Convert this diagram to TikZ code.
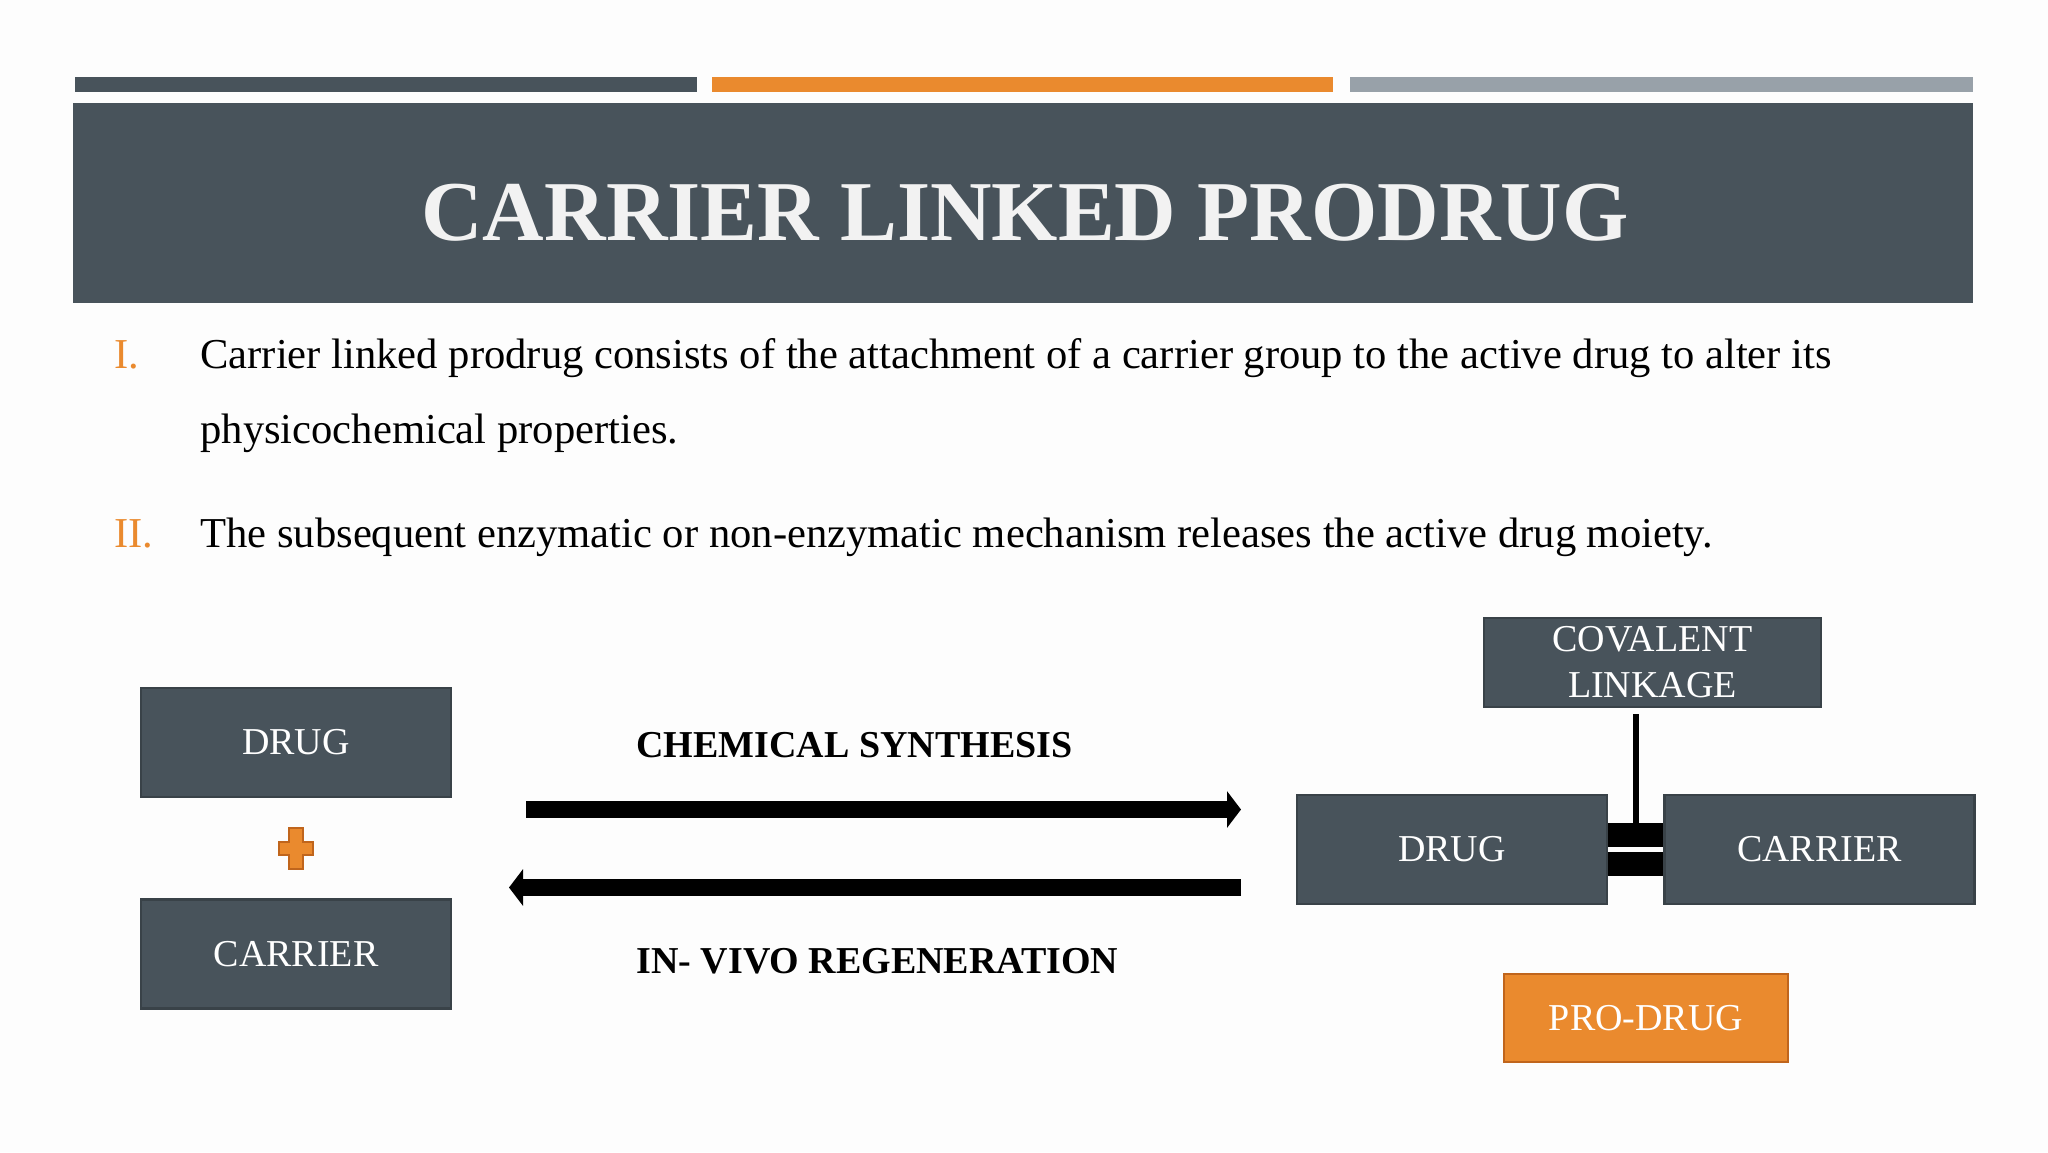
\documentclass[tikz,border=0pt]{standalone}
\usepackage{fontspec}
\setmainfont{Liberation Serif}
\usetikzlibrary{arrows.meta}

\definecolor{slate}{HTML}{48535B}
\definecolor{slateline}{HTML}{394248}
\definecolor{accent}{HTML}{EA8A2E}
\definecolor{accentline}{HTML}{C0651C}
\definecolor{mist}{HTML}{98A1A9}
\definecolor{paper}{HTML}{FDFDFD}

\tikzset{
	box/.style = {draw=slateline, line width=1.2pt, fill=slate, text=white, inner sep=0pt,
		minimum width=155pt, minimum height=54.5pt, align=center,
		font=\fontsize{19}{23}\selectfont},
	bigarrow/.style = {line width=8.5pt, -{Triangle[length=7pt, width=18pt]}},
	body/.style = {anchor=base west, inner sep=0pt, font=\fontsize{21.3}{25}\selectfont},
	arrowtext/.style = {anchor=base west, inner sep=0pt, font=\fontsize{19}{23}\selectfont\bfseries},
}

\begin{document}
\begin{tikzpicture}[x=0.5pt, y=-0.5pt]
	\useasboundingbox (0,0) rectangle (2048,1152);
	\fill[paper] (0,0) rectangle (2048,1152);

	% header
	\fill[slate] (75,77) rectangle (697,92);
	\fill[accent] (712,77) rectangle (1333,92);
	\fill[mist] (1350,77) rectangle (1973,92);
	\fill[slate] (73,103) rectangle (1973,303);
	\node[anchor=base, inner sep=0pt, text=white!95!black, font=\fontsize{42.6}{50}\selectfont\bfseries]
		(title) at (1025,240) {CARRIER LINKED PRODRUG};

	% points
	\node[body, text=accent] (num1) at (114,368) {I.};
	\node[body] (line1) at (200,368) {Carrier linked prodrug consists of the attachment of a carrier group to the active drug to alter its};
	\node[body] (line2) at (200,443) {physicochemical properties.};
	\node[body, text=accent] (num2) at (114,547) {II.};
	\node[body] (line3) at (200,547) {The subsequent enzymatic or non-enzymatic mechanism releases the active drug moiety.};

	% reactants
	\node[box] (drug) at (296,742.5) {DRUG};
	\node[box] (carrier) at (296,954) {CARRIER};
	\coordinate (plus) at (295.5,848.5);
	\filldraw[fill=accent, draw=accentline, line width=1pt]
		(plus) ++(-17,-6.5) -- ++(10,0) -- ++(0,-14) -- ++(14,0) -- ++(0,14) -- ++(10,0)
		-- ++(0,13) -- ++(-10,0) -- ++(0,14) -- ++(-14,0) -- ++(0,-14) -- ++(-10,0) -- cycle;

	% arrows
	\coordinate (fwd start) at (526,809.5);
	\coordinate (fwd end) at (1241,809.5);
	\coordinate (back start) at (1241,887.5);
	\coordinate (back end) at (509,887.5);
	\draw[bigarrow] (fwd start) -- (fwd end);
	\draw[bigarrow] (back start) -- (back end);
	\node[arrowtext] (synthesis) at (636,757) {CHEMICAL SYNTHESIS};
	\node[arrowtext] (regeneration) at (636,973) {IN- VIVO REGENERATION};

	% product
	\node[box, minimum width=168.5pt, minimum height=44.5pt] (linkage) at (1652.5,662.5) {COVALENT\\LINKAGE};
	\node[box] (pdrug) at (1452,849.5) {DRUG};
	\node[box] (pcarrier) at (1819.5,849.5) {CARRIER};
	\fill (pdrug.east |- 0,823) rectangle (pcarrier.west |- 0,847);
	\fill (pdrug.east |- 0,852) rectangle (pcarrier.west |- 0,876);
	\coordinate (bond) at (1636,823);
	\draw[line width=3pt] (bond |- linkage.south) ++(0,6) -- (bond);
	\node[box, fill=accent, draw=accentline, minimum width=142pt, minimum height=44pt] (prodrug) at (1646,1018) {PRO-DRUG};
\end{tikzpicture}
\end{document}
